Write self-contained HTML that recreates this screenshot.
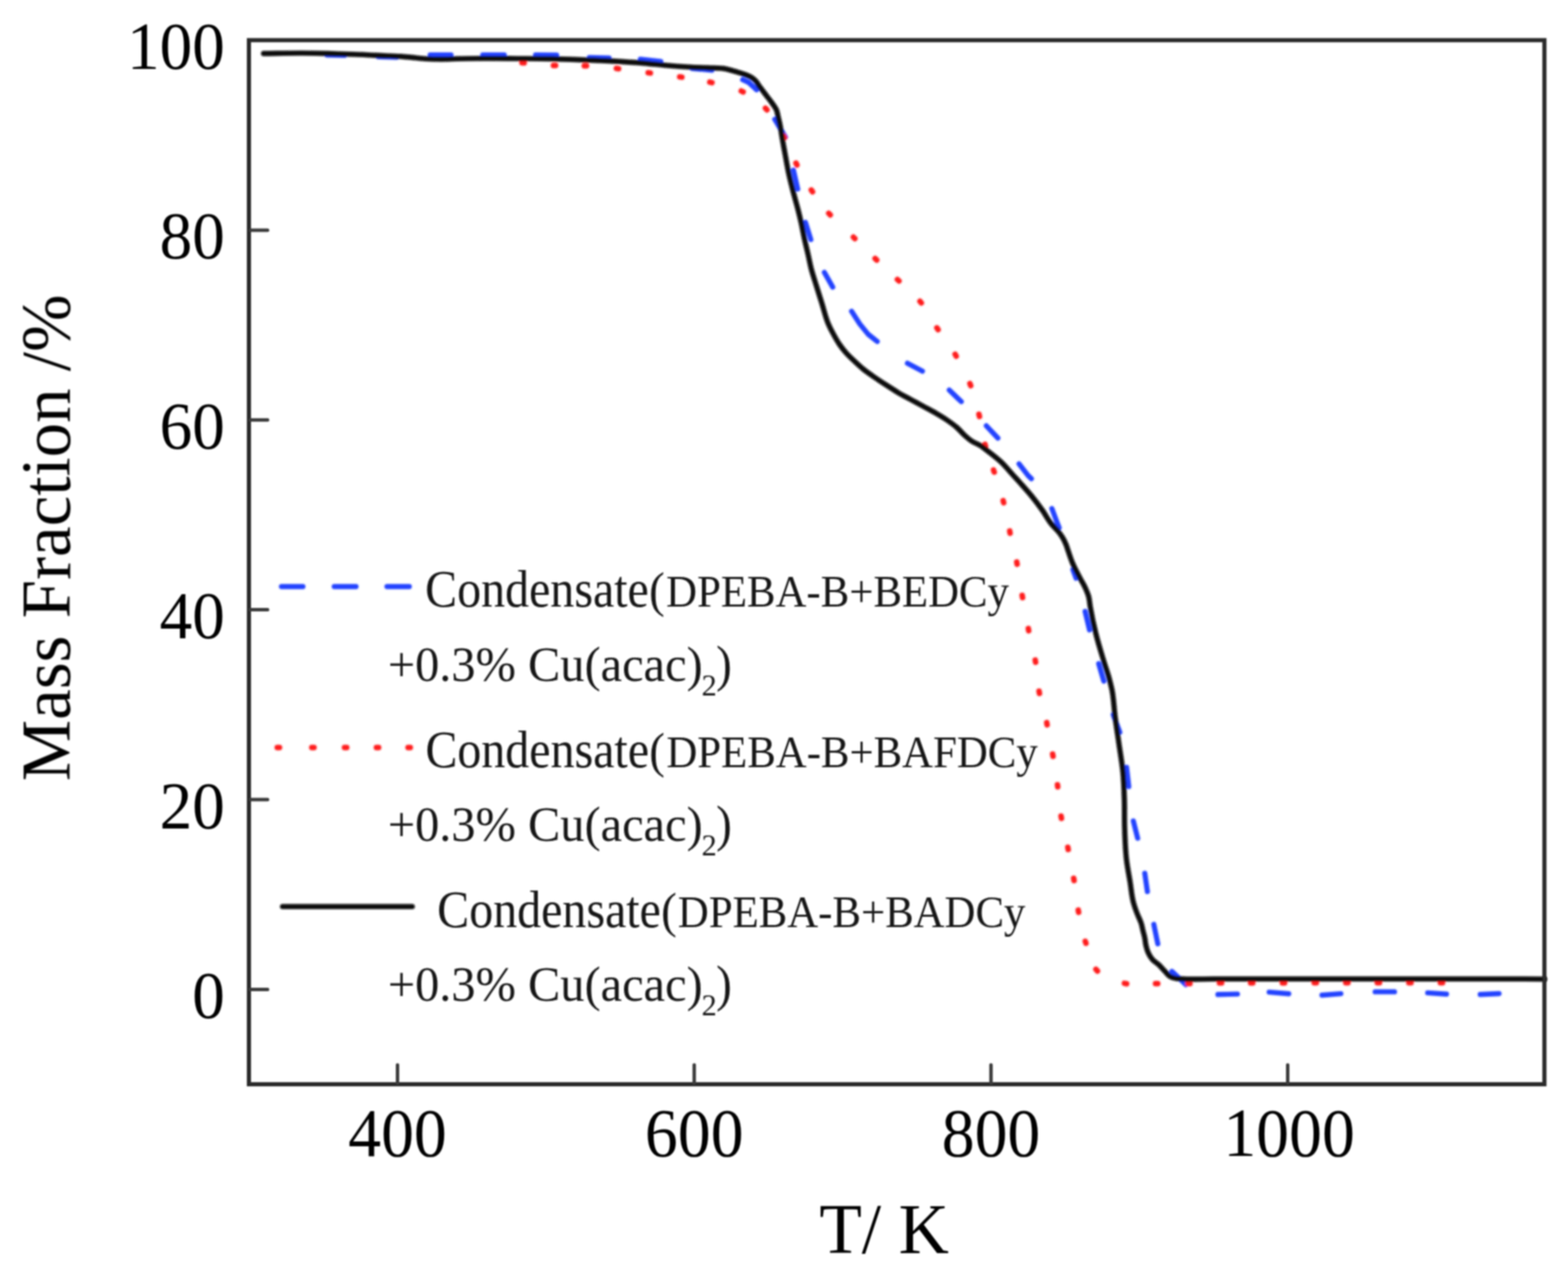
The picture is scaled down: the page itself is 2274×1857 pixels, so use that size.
<!DOCTYPE html><html><head><meta charset="utf-8"><style>html,body{margin:0;padding:0;background:#fff;overflow:hidden}svg{display:block}</style></head><body><svg width="2274" height="1857" viewBox="0 0 2274 1857" font-family="Liberation Serif, 'Times New Roman', serif">
<defs><filter id="bl" filterUnits="userSpaceOnUse" x="0" y="0" width="2274" height="1857"><feGaussianBlur stdDeviation="1.1"/></filter><filter id="bl2" filterUnits="userSpaceOnUse" x="0" y="0" width="2274" height="1857"><feGaussianBlur stdDeviation="1.6"/></filter></defs>
<rect width="100%" height="100%" fill="#fff"/>
<g filter="url(#bl2)">
<g fill="none" stroke="#2342ff" stroke-width="7.4" stroke-linecap="round" stroke-linejoin="round">
<polyline points="474.2,79.9 499.8,80.2"/>
<polyline points="548.7,82.3 575.1,83.1"/>
<polyline points="623.9,79.6 654.1,79.6"/>
<polyline points="700.1,79.6 731.3,79.6"/>
<polyline points="776.7,79.8 807.3,80.0"/>
<polyline points="854.7,83.4 883.3,84.1"/>
<polyline points="928.7,85.9 958.3,89.1"/>
<polyline points="1003.7,99.2 1032.3,101.9"/>
<polyline points="1077.1,115.7 1085.6,119.5 1097.3,130.2"/>
<polyline points="1123.6,173.2 1139.1,199.0"/>
<polyline points="1150.7,246.8 1156.9,274.2"/>
<polyline points="1168.1,322.5 1175.9,347.5"/>
<polyline points="1195.5,395.1 1207.7,416.6"/>
<polyline points="1235.0,451.6 1246.9,470.0 1259.1,485.0 1272.2,495.4"/>
<polyline points="1316.0,526.9 1337.8,538.6"/>
<polyline points="1376.7,565.9 1389.2,578.0 1394.1,582.7"/>
<polyline points="1430.4,617.7 1447.2,635.6"/>
<polyline points="1477.9,672.9 1491.1,690.0 1495.8,694.5"/>
<polyline points="1525.5,737.7 1533.8,760.0 1536.1,765.6"/>
<polyline points="1556.0,826.5 1560.6,838.9"/>
<polyline points="1573.7,887.1 1580.1,913.8"/>
<polyline points="1593.4,962.9 1600.8,988.1"/>
<polyline points="1614.5,1037.0 1624.0,1062.3"/>
<polyline points="1633.8,1113.1 1637.0,1141.1"/>
<polyline points="1643.6,1191.0 1649.9,1216.1"/>
<polyline points="1660.2,1266.9 1664.0,1293.4"/>
<polyline points="1673.3,1341.0 1679.1,1369.3"/>
<polyline points="1699.5,1409.3 1719.9,1428.5"/>
<polyline points="1766.3,1442.8 1794.6,1442.1"/>
<polyline points="1840.6,1439.4 1869.0,1441.7"/>
<polyline points="1917.2,1443.7 1944.6,1441.6"/>
<polyline points="1994.3,1438.9 2022.4,1438.9"/>
<polyline points="2070.5,1440.4 2097.8,1442.3"/>
<polyline points="2146.7,1442.8 2174.0,1441.5"/>
</g>
<g fill="none" stroke="#ff1c1c" stroke-width="8.0" stroke-linecap="round">
<line x1="757.0" y1="91.0" x2="760.2" y2="91.2"/>
<line x1="802.6" y1="94.9" x2="805.8" y2="95.1"/>
<line x1="847.4" y1="95.4" x2="850.6" y2="95.6"/>
<line x1="893.9" y1="99.3" x2="897.1" y2="99.7"/>
<line x1="940.0" y1="105.5" x2="943.2" y2="105.9"/>
<line x1="985.7" y1="111.5" x2="988.9" y2="111.9"/>
<line x1="1029.4" y1="119.1" x2="1032.6" y2="119.9"/>
<line x1="1075.0" y1="132.0" x2="1077.8" y2="133.4"/>
<line x1="1110.1" y1="157.0" x2="1112.3" y2="159.4"/>
<line x1="1136.2" y1="196.9" x2="1137.8" y2="199.7"/>
<line x1="1154.4" y1="236.6" x2="1155.8" y2="239.4"/>
<line x1="1176.6" y1="275.6" x2="1178.4" y2="278.2"/>
<line x1="1201.9" y1="309.4" x2="1204.1" y2="311.8"/>
<line x1="1237.6" y1="344.0" x2="1239.8" y2="346.2"/>
<line x1="1269.1" y1="375.0" x2="1271.5" y2="377.2"/>
<line x1="1301.4" y1="405.4" x2="1303.8" y2="407.6"/>
<line x1="1334.2" y1="437.1" x2="1336.2" y2="439.5"/>
<line x1="1358.7" y1="475.6" x2="1360.5" y2="478.2"/>
<line x1="1385.2" y1="514.0" x2="1386.8" y2="516.8"/>
<line x1="1406.6" y1="556.5" x2="1407.8" y2="559.5"/>
<line x1="1419.7" y1="601.0" x2="1420.5" y2="604.2"/>
<line x1="1428.5" y1="644.6" x2="1429.3" y2="647.6"/>
<line x1="1440.9" y1="681.9" x2="1441.9" y2="684.9"/>
<line x1="1454.8" y1="726.3" x2="1455.6" y2="729.3"/>
<line x1="1464.3" y1="770.4" x2="1464.9" y2="773.6"/>
<line x1="1474.5" y1="815.4" x2="1475.1" y2="818.6"/>
<line x1="1482.4" y1="863.8" x2="1483.0" y2="867.0"/>
<line x1="1491.3" y1="911.9" x2="1491.9" y2="915.1"/>
<line x1="1501.3" y1="957.6" x2="1501.9" y2="960.8"/>
<line x1="1506.9" y1="1002.8" x2="1507.5" y2="1006.0"/>
<line x1="1518.0" y1="1048.4" x2="1518.6" y2="1051.6"/>
<line x1="1526.6" y1="1094.0" x2="1527.2" y2="1097.2"/>
<line x1="1533.6" y1="1138.4" x2="1534.0" y2="1141.6"/>
<line x1="1538.8" y1="1184.0" x2="1539.4" y2="1187.2"/>
<line x1="1548.6" y1="1229.2" x2="1549.2" y2="1232.4"/>
<line x1="1557.1" y1="1274.3" x2="1557.7" y2="1277.5"/>
<line x1="1563.7" y1="1320.4" x2="1564.3" y2="1323.6"/>
<line x1="1573.9" y1="1365.5" x2="1574.9" y2="1368.5"/>
<line x1="1589.4" y1="1406.3" x2="1591.6" y2="1408.7"/>
<line x1="1630.7" y1="1426.6" x2="1633.9" y2="1427.2"/>
<line x1="1675.8" y1="1426.9" x2="1679.0" y2="1426.9"/>
<line x1="1722.6" y1="1426.9" x2="1725.8" y2="1426.9"/>
<line x1="1768.5" y1="1426.0" x2="1771.7" y2="1426.0"/>
<line x1="1813.7" y1="1426.0" x2="1816.9" y2="1426.0"/>
<line x1="1859.8" y1="1426.0" x2="1863.0" y2="1426.0"/>
<line x1="1905.9" y1="1425.8" x2="1909.1" y2="1425.8"/>
<line x1="1951.7" y1="1425.7" x2="1954.9" y2="1425.7"/>
<line x1="1997.4" y1="1425.7" x2="2000.6" y2="1425.7"/>
<line x1="2043.2" y1="1425.7" x2="2046.4" y2="1425.7"/>
<line x1="2088.9" y1="1425.7" x2="2092.1" y2="1425.7"/>
</g>
<path d="M382.3,77.6 C400.9,77.4 419.6,76.9 438.2,77.0 C450.7,77.1 463.3,77.3 475.8,77.6 C487.5,77.9 499.3,78.4 511.0,78.8 C517.3,79.0 523.7,79.2 530.0,79.5 C535.5,79.8 540.9,80.1 546.4,80.4 C558.2,81.0 570.0,81.0 581.7,81.9 C587.1,82.3 592.6,82.9 598.0,83.4 C604.1,84.0 610.3,84.8 616.4,85.2 C624.2,85.7 632.1,85.9 640.0,85.9 C647.8,85.9 655.7,85.5 663.5,85.3 C676.0,85.0 688.6,84.9 701.1,84.8 C717.4,84.7 733.7,84.9 750.0,85.0 C766.7,85.1 783.3,85.1 800.0,85.4 C816.7,85.7 833.3,86.4 850.0,87.0 C866.7,87.7 883.3,88.3 900.0,89.3 C911.3,90.0 922.7,90.7 934.0,91.6 C945.3,92.6 956.7,94.0 968.0,95.0 C978.7,95.9 989.3,96.6 1000.0,97.2 C1008.8,97.7 1017.5,98.0 1026.3,98.4 C1035.1,98.9 1044.1,98.2 1052.7,99.9 C1057.1,100.8 1061.5,102.2 1065.8,103.5 C1070.2,104.8 1074.7,106.0 1079.0,107.6 C1082.4,108.9 1085.9,110.0 1088.9,111.8 C1091.3,113.2 1093.6,115.0 1095.5,116.9 C1098.1,119.5 1099.8,123.1 1102.0,126.1 C1105.2,130.5 1108.6,134.8 1111.9,139.2 C1114.6,142.8 1117.5,146.3 1120.0,150.0 C1122.3,153.3 1125.0,156.6 1126.4,160.3 C1127.4,163.0 1127.7,166.0 1128.4,168.9 C1129.3,172.6 1130.2,176.3 1131.0,180.0 C1132.4,186.6 1133.2,193.3 1134.3,200.0 C1135.8,208.6 1137.4,217.3 1139.0,225.9 C1140.5,233.9 1141.8,242.0 1143.5,250.0 C1145.5,259.3 1147.8,268.6 1150.2,277.8 C1152.3,285.9 1154.7,293.9 1156.8,302.0 C1158.8,309.6 1160.6,317.3 1162.3,325.0 C1163.7,331.6 1164.9,338.4 1166.3,345.0 C1168.1,353.4 1170.2,361.7 1172.1,370.0 C1173.6,376.7 1174.8,383.4 1176.5,390.0 C1178.2,396.7 1180.5,403.3 1182.5,410.0 C1185.6,420.0 1188.8,430.0 1191.9,440.0 C1195.0,450.0 1197.2,460.4 1201.3,470.0 C1203.5,475.1 1206.1,480.1 1208.8,485.0 C1211.6,490.1 1214.4,495.2 1217.7,500.0 C1220.6,504.2 1223.7,508.2 1227.1,512.0 C1231.2,516.6 1235.8,520.8 1240.3,525.0 C1244.1,528.6 1247.9,532.2 1252.0,535.5 C1256.1,538.9 1260.5,541.9 1264.9,545.0 C1272.3,550.2 1279.9,555.1 1287.5,560.0 C1293.0,563.5 1298.4,567.2 1304.0,570.5 C1309.7,573.9 1315.7,576.8 1321.5,580.0 C1327.7,583.3 1333.8,586.6 1340.0,590.0 C1346.1,593.3 1352.2,596.5 1358.2,600.0 C1363.4,603.0 1368.6,606.1 1373.5,609.5 C1378.3,612.8 1383.1,616.2 1387.5,620.0 C1391.5,623.5 1394.9,627.9 1398.9,631.5 C1402.2,634.5 1405.5,637.5 1409.2,639.9 C1413.2,642.5 1418.0,644.0 1422.0,646.5 C1426.0,649.0 1429.6,652.1 1433.3,655.0 C1439.5,659.8 1445.9,664.6 1451.6,670.0 C1458.2,676.2 1463.8,683.3 1469.9,690.0 C1472.9,693.3 1476.0,696.6 1479.0,700.0 C1484.9,706.6 1490.8,713.1 1496.4,720.0 C1501.7,726.5 1506.7,733.2 1511.5,740.0 C1516.1,746.5 1519.7,753.8 1524.7,760.0 C1528.0,764.2 1532.2,767.7 1535.5,772.0 C1537.5,774.6 1539.4,777.2 1541.1,780.0 C1543.0,783.2 1544.6,786.6 1546.0,790.0 C1547.3,793.2 1548.2,796.7 1549.4,800.0 C1551.4,805.7 1553.2,811.4 1555.5,817.0 C1558.8,824.9 1563.0,832.4 1567.0,840.0 C1569.3,844.4 1572.0,848.5 1574.0,853.0 C1575.8,857.0 1577.6,861.2 1578.8,865.4 C1580.1,870.1 1580.3,875.1 1581.1,880.0 C1583.4,893.4 1586.2,906.8 1589.5,920.0 C1592.8,933.5 1597.0,946.7 1601.0,960.0 C1603.4,967.9 1606.2,975.6 1608.4,983.5 C1609.9,989.0 1611.3,994.5 1612.5,1000.0 C1615.2,1013.1 1615.5,1026.7 1617.2,1040.0 C1618.9,1053.4 1621.0,1066.7 1622.9,1080.0 C1624.8,1093.3 1627.2,1106.6 1628.5,1120.0 C1629.8,1133.3 1630.2,1146.7 1630.6,1160.0 C1631.0,1173.3 1630.6,1186.7 1631.0,1200.0 C1631.5,1216.2 1631.9,1232.6 1633.9,1248.7 C1635.2,1259.2 1637.3,1269.6 1639.0,1280.0 C1640.6,1290.0 1641.2,1300.3 1643.9,1310.0 C1645.3,1315.1 1647.1,1320.1 1649.0,1325.0 C1650.9,1330.1 1653.6,1334.8 1655.2,1340.0 C1656.2,1343.4 1656.8,1346.9 1657.6,1350.4 C1658.4,1353.8 1659.5,1357.2 1660.2,1360.7 C1660.9,1364.1 1661.0,1367.7 1661.8,1371.1 C1662.6,1374.6 1663.5,1378.2 1664.9,1381.5 C1666.5,1385.1 1668.5,1388.8 1671.1,1391.8 C1673.7,1394.8 1677.5,1396.8 1680.4,1399.6 C1683.5,1402.5 1686.2,1405.8 1689.2,1408.9 C1691.8,1411.5 1693.9,1414.9 1697.0,1416.7 C1699.3,1418.0 1702.1,1418.8 1704.8,1419.4 C1707.4,1420.0 1710.2,1419.9 1712.9,1420.1 C1728.6,1421.3 1744.3,1420.3 1760.0,1420.3 C1776.7,1420.3 1793.3,1420.3 1810.0,1420.3 C1826.7,1420.3 1843.3,1420.3 1860.0,1420.3 C1876.7,1420.3 1893.3,1420.3 1910.0,1420.3 C1926.7,1420.3 1943.3,1420.3 1960.0,1420.3 C1976.7,1420.3 1993.3,1420.3 2010.0,1420.3 C2026.7,1420.3 2043.3,1420.3 2060.0,1420.3 C2076.7,1420.3 2093.3,1420.3 2110.0,1420.3 C2126.7,1420.3 2143.3,1420.3 2160.0,1420.3 C2176.7,1420.3 2193.3,1420.2 2210.0,1420.3 C2220.0,1420.3 2230.0,1420.4 2240.0,1420.5" fill="none" stroke="#0c0c0c" stroke-width="7.6" stroke-linejoin="round" stroke-linecap="round"/>
</g>
<g filter="url(#bl)">
<rect x="361" y="58.3" width="1878.8" height="1514.7" fill="none" stroke="#2b2b2b" stroke-width="6"/>
<g stroke="#3a3a3a" stroke-width="5" stroke-linecap="round">
<line x1="363" y1="1435.4" x2="388" y2="1435.4"/>
<line x1="363" y1="1160.0" x2="388" y2="1160.0"/>
<line x1="363" y1="884.6" x2="388" y2="884.6"/>
<line x1="363" y1="609.3" x2="388" y2="609.3"/>
<line x1="363" y1="333.9" x2="388" y2="333.9"/>
<line x1="576.5" y1="1571" x2="576.5" y2="1545"/>
<line x1="1006.8" y1="1571" x2="1006.8" y2="1545"/>
<line x1="1437.2" y1="1571" x2="1437.2" y2="1545"/>
<line x1="1867.5" y1="1571" x2="1867.5" y2="1545"/>
</g>
<text transform="translate(326.1,1476.9) scale(0.965,1)" font-size="98" fill="#000" text-anchor="end">0</text>
<text transform="translate(326.1,1201.5) scale(0.965,1)" font-size="98" fill="#000" text-anchor="end">20</text>
<text transform="translate(326.1,926.1) scale(0.965,1)" font-size="98" fill="#000" text-anchor="end">40</text>
<text transform="translate(326.1,650.8) scale(0.965,1)" font-size="98" fill="#000" text-anchor="end">60</text>
<text transform="translate(326.1,375.4) scale(0.965,1)" font-size="98" fill="#000" text-anchor="end">80</text>
<text transform="translate(326.1,100.0) scale(0.965,1)" font-size="98" fill="#000" text-anchor="end">100</text>
<text transform="translate(576.5,1677.0) scale(0.953,1)" font-size="100" fill="#000" text-anchor="middle">400</text>
<text transform="translate(1006.8,1677.0) scale(0.953,1)" font-size="100" fill="#000" text-anchor="middle">600</text>
<text transform="translate(1437.2,1677.0) scale(0.953,1)" font-size="100" fill="#000" text-anchor="middle">800</text>
<text transform="translate(1869.5,1677.0) scale(0.953,1)" font-size="100" fill="#000" text-anchor="middle">1000</text>
<text transform="translate(1188.2,1817.5) scale(0.98,1)" font-size="103" fill="#000">T/ K</text>
<text transform="translate(101.3,1133.3) rotate(-90) scale(0.991,1)" font-size="101" fill="#000">Mass Fraction /%</text>
</g>
<g filter="url(#bl2)">
<g fill="none" stroke-linecap="round">
<g stroke="#2342ff" stroke-width="7.4">
<line x1="408.2" y1="851" x2="439.3" y2="851"/>
<line x1="484.7" y1="851" x2="516.3" y2="851"/>
<line x1="561.2" y1="851" x2="593.5999999999999" y2="851"/>
</g>
<line x1="409.8" y1="1315.3" x2="597.8" y2="1315.3" stroke="#0c0c0c" stroke-width="7.6"/>
</g>
<g fill="none" stroke="#ff1c1c" stroke-width="8.0" stroke-linecap="round">
<line x1="402.09999999999997" y1="1084.5" x2="405.3" y2="1084.5"/>
<line x1="452.2" y1="1084.5" x2="455.40000000000003" y2="1084.5"/>
<line x1="499.59999999999997" y1="1084.5" x2="502.8" y2="1084.5"/>
<line x1="545.9" y1="1084.5" x2="549.1" y2="1084.5"/>
<line x1="591.8" y1="1084.5" x2="595.0" y2="1084.5"/>
</g>
</g>
<g filter="url(#bl)">
<text transform="translate(616.6,880.2) scale(0.915,1)" font-size="76" fill="#151515">Condensate</text>
<text transform="translate(941.3,880.2) scale(0.95,1)" font-size="72" fill="#151515">(</text>
<text transform="translate(966.1,880.2) scale(0.955,1)" font-size="65" fill="#151515">DPEBA-B+BEDCy</text>
<text transform="translate(562.4,987.5) scale(0.975,1)" font-size="72" fill="#151515">+0.3% Cu(acac)</text>
<text transform="translate(1017.4,1008.5) scale(1.0,1)" font-size="44" fill="#151515">2</text>
<text transform="translate(1038.4,987.5) scale(0.93,1)" font-size="74" fill="#151515">)</text>
<text transform="translate(616.9,1112.6) scale(0.915,1)" font-size="76" fill="#151515">Condensate</text>
<text transform="translate(941.6,1112.6) scale(0.95,1)" font-size="72" fill="#151515">(</text>
<text transform="translate(966.4,1112.6) scale(0.955,1)" font-size="65" fill="#151515">DPEBA-B+BAFDCy</text>
<text transform="translate(562.4,1219.5) scale(0.975,1)" font-size="72" fill="#151515">+0.3% Cu(acac)</text>
<text transform="translate(1017.4,1240.5) scale(1.0,1)" font-size="44" fill="#151515">2</text>
<text transform="translate(1038.4,1219.5) scale(0.93,1)" font-size="74" fill="#151515">)</text>
<text transform="translate(634.1,1344.8) scale(0.915,1)" font-size="76" fill="#151515">Condensate</text>
<text transform="translate(958.8,1344.8) scale(0.95,1)" font-size="72" fill="#151515">(</text>
<text transform="translate(983.1,1344.8) scale(0.955,1)" font-size="65" fill="#151515">DPEBA-B+BADCy</text>
<text transform="translate(562.4,1452.0) scale(0.975,1)" font-size="72" fill="#151515">+0.3% Cu(acac)</text>
<text transform="translate(1017.4,1473.0) scale(1.0,1)" font-size="44" fill="#151515">2</text>
<text transform="translate(1038.4,1452.0) scale(0.93,1)" font-size="74" fill="#151515">)</text>
</g>
</svg></body></html>
